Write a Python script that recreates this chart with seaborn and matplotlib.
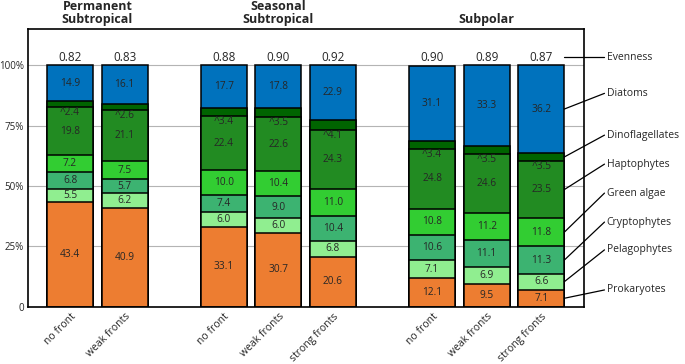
import numpy as np
import pandas as pd
import matplotlib
matplotlib.use("Agg")
import matplotlib.pyplot as plt
import seaborn as sns

# bar labels and regions
regions = ["Permanent\nSubtropical", "Seasonal\nSubtropical", "Subpolar"]
fronts = [["no front", "weak fronts"],
          ["no front", "weak fronts", "strong fronts"],
          ["no front", "weak fronts", "strong fronts"]]

evenness = [0.82, 0.83, 0.88, 0.90, 0.92, 0.90, 0.89, 0.87]

# taxa, bottom -> top
taxa = ["Prokaryotes", "Pelagophytes", "Cryptophytes", "Green algae",
        "Haptophytes", "Dinoflagellates", "Diatoms"]
prokaryotes = [43.4, 40.9, 33.1, 30.7, 20.6, 12.1, 9.5, 7.1]
pelagophytes = [5.5, 6.2, 6.0, 6.0, 6.8, 7.1, 6.9, 6.6]
cryptophytes = [6.8, 5.7, 7.4, 9.0, 10.4, 10.6, 11.1, 11.3]
green_algae = [7.2, 7.5, 10.0, 10.4, 11.0, 10.8, 11.2, 11.8]
haptophytes = [19.8, 21.1, 22.4, 22.6, 24.3, 24.8, 24.6, 23.5]
dinoflagellates = [2.4, 2.6, 3.4, 3.5, 4.1, 3.4, 3.5, 3.5]
diatoms = [14.9, 16.1, 17.7, 17.8, 22.9, 31.1, 33.3, 36.2]

colors = {"Prokaryotes": "#ED7D31", "Pelagophytes": "#90EE90",
          "Cryptophytes": "#3CB371", "Green algae": "#32CD32",
          "Haptophytes": "#228B22", "Dinoflagellates": "#006400",
          "Diatoms": "#0072BD"}

values = [prokaryotes, pelagophytes, cryptophytes, green_algae,
          haptophytes, dinoflagellates, diatoms]

# x positions: bars 1 apart, extra gap between regions
GAP = 0.82
pos, lbl, grp = [], [], []
i = 0
for g, fl in enumerate(fronts):
    for f in fl:
        pos.append(i + g * GAP)
        lbl.append(f)
        grp.append(g)
        i += 1
pos = np.array(pos)

rows = []
for t, v in zip(taxa, values):
    for k in range(len(pos)):
        rows.append({"pos": pos[k], "taxon": t, "value": v[k]})
df = pd.DataFrame(rows)
df["top"] = df.groupby("pos")["value"].cumsum()
df["mid"] = df["top"] - df["value"] / 2

sns.set_style("whitegrid")
plt.rcParams["font.family"] = ["Open Sans", "DejaVu Sans"]

fig = plt.figure(figsize=(6.85, 3.64), dpi=100)
ax = fig.add_axes([0.041, 0.157, 0.812, 0.763])

W = 0.845
# stacked bars: draw cumulative tops from the top layer down
for t in reversed(taxa):
    sub = df[df["taxon"] == t]
    sns.barplot(data=sub, x="pos", y="top", native_scale=True, width=W,
                color=colors[t], saturation=1, edgecolor="black",
                linewidth=1.1, errorbar=None, ax=ax)

# segment labels
for _, r in df.iterrows():
    if r["taxon"] == "Dinoflagellates":
        y = r["top"] - r["value"] - 2.3
        ax.text(r["pos"], y, "^%.1f" % r["value"], ha="center", va="center", fontsize=7.3)
    else:
        ax.text(r["pos"], r["mid"], "%.1f" % r["value"], ha="center", va="center", fontsize=7.3)

# evenness
for p, e in zip(pos, evenness):
    ax.text(p, 103.3, "%.2f" % e, ha="center", va="center", fontsize=8.5)

# region titles
for g, name in enumerate(regions):
    ax.text(pos[np.array(grp) == g].mean(), 116.3, name, ha="center", va="bottom",
            fontsize=9, fontweight="bold", clip_on=False, linespacing=1.0)

# right-side legend with leader lines
last = df[df["pos"] == pos[-1]].set_index("taxon")
x0 = pos[-1] + W / 2
x1 = 9.80
label_y = [7.0, 23.6, 35.1, 47.1, 59.1, 71.1, 88.4]
for t, ly in zip(taxa, label_y):
    ax.plot([x0, x1], [last.loc[t, "mid"], ly], color="black", lw=0.9, clip_on=False)
    ax.text(x1 + 0.04, ly, t, ha="left", va="center", fontsize=7.5)
ax.plot([x0, x1], [103.3, 103.3], color="black", lw=0.9, clip_on=False)
ax.text(x1 + 0.04, 103.3, "Evenness", ha="left", va="center", fontsize=7.5)

ax.set_xlim(-0.77, 9.43)
ax.set_ylim(0, 115)
ax.set_xticks(pos)
ax.set_xticklabels(lbl, rotation=45, ha="right", rotation_mode="anchor", fontsize=7.5)
ax.set_yticks([0, 25, 50, 75, 100])
ax.set_yticklabels(["0", "25%", "50%", "75%", "100%"], fontsize=7)
ax.tick_params(axis="both", length=0, pad=3)
ax.set_xlabel("")
ax.set_ylabel("")
ax.grid(False, axis="x")
ax.grid(True, axis="y", color="#b4b4b4", lw=0.8)
ax.set_axisbelow(True)
for s in ax.spines.values():
    s.set_color("black")
    s.set_linewidth(1.2)

fig.savefig("out.png", dpi=100)
